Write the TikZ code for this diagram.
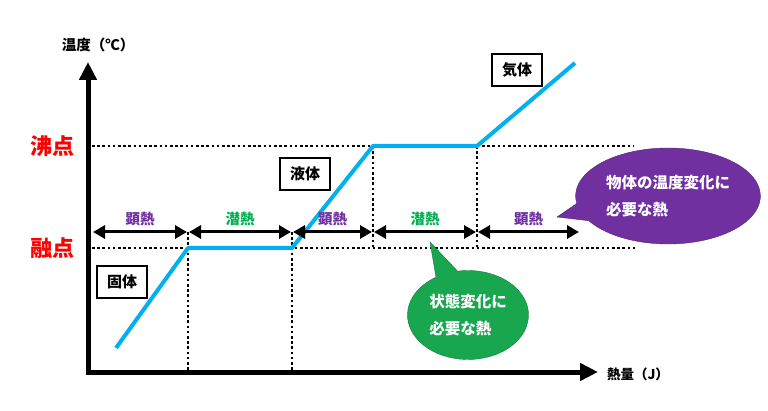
\documentclass[tikz,border=0pt]{standalone}
\usepackage{fontspec}
\setmainfont{Noto Sans CJK JP}
\usetikzlibrary{arrows.meta,shapes.callouts}
\definecolor{lineblue}{RGB}{0,176,240}
\definecolor{heatpurple}{RGB}{112,48,160}
\definecolor{heatgreen}{RGB}{0,176,80}
\definecolor{bubblegreen}{RGB}{24,166,78}
\tikzset{
  axis/.style={line width=5pt,line join=miter,{Triangle[length=18pt,width=17pt]}-{Triangle[length=18pt,width=17pt]}},
  guide/.style={line width=2.8pt,dash pattern=on 2.6pt off 2.6pt},
  curve/.style={lineblue,line width=4pt,line join=round},
  span/.style={line width=3pt,shorten <=1pt,shorten >=1pt,{Triangle[length=12pt,width=13pt]}-{Triangle[length=12pt,width=13pt]}},
  heatlabel/.style={font=\bfseries\fontsize{14.5}{14.5}\selectfont,above=1pt},
  statebox/.style={draw,line width=1.2pt,minimum width=50pt,minimum height=32pt,font=\bfseries\fontsize{15}{15}\selectfont},
  bubble/.style={ellipse callout,callout pointer arc=22,text=white,align=left,font=\bfseries\fontsize{15.5}{27}\selectfont}
}
\begin{document}
\begin{tikzpicture}[x=1pt,y=-1pt]
    \useasboundingbox (0,0) rectangle (768,411);

    % Corner points of the heating curve
    \coordinate (k0) at (116,348);
    \coordinate (k1) at (188,248);
    \coordinate (k2) at (292,248);
    \coordinate (k3) at (373,146);
    \coordinate (k4) at (477,146);
    \coordinate (k5) at (575,63);

    % Ends of the heat spans
    \coordinate (s0) at (92,232);
    \coordinate (s1) at (188,232);
    \coordinate (s2) at (292,232);
    \coordinate (s3) at (373,232);
    \coordinate (s4) at (477,232);
    \coordinate (s5) at (580,232);

    % Draw the axes
    \coordinate (origin) at (88,372);
    \coordinate (ytop) at (88,62);
    \coordinate (xend) at (598,372);
    \draw[axis] (ytop) -- (origin) -- (xend);
    \node[font=\bfseries\fontsize{14.5}{14.5}\selectfont] (ylabel) at (98,45) {温度（℃）};
    \node[font=\bfseries\fontsize{13.5}{13.5}\selectfont] (xlabel) at (638,374) {熱量（J）};

    % Boiling and melting points
    \node[red,font=\bfseries\fontsize{22}{22}\selectfont] (boil) at (52,146) {沸点};
    \node[red,font=\bfseries\fontsize{22}{22}\selectfont] (melt) at (52,248) {融点};
    \draw[guide] (92,146) -- (633,146);
    \draw[guide] (92,248) -- (638,248);

    % Dotted dividers
    \draw[guide] (s1) -- (s1 |- origin);
    \draw[guide] (s2) -- (s2 |- origin);
    \draw[guide] (k3) -- (k3 |- k1);
    \draw[guide] (k4) -- (k4 |- k1);

    % Heating curve
    \draw[curve] (k0) -- (k1) -- (k2) -- (k3) -- (k4) -- (k5);

    % Heat spans
    \draw[span] (s0) -- (s1) node[midway,heatlabel,heatpurple] (sense1) {顕熱};
    \draw[span] (s1) -- (s2) node[midway,heatlabel,heatgreen] (latent1) {潜熱};
    \draw[span] (s2) -- (s3) node[midway,heatlabel,heatpurple] (sense2) {顕熱};
    \draw[span] (s3) -- (s4) node[midway,heatlabel,heatgreen] (latent2) {潜熱};
    \draw[span] (s4) -- (s5) node[midway,heatlabel,heatpurple] (sense3) {顕熱};

    % State boxes
    \node[statebox] (solid) at (122,282) {固体};
    \node[statebox] (liquid) at (305,174) {液体};
    \node[statebox] (gas) at (517,70) {気体};

    % Callouts
    \coordinate (tipG) at (430,242);
    \coordinate (tipP) at (557,217);
    \node[bubble,fill=bubblegreen,draw=bubblegreen!75!black,minimum width=121pt,minimum height=89pt,
      callout absolute pointer=(tipG)] (latentnote) at (468,315) {状態変化に\\必要な熱};
    \node[bubble,fill=heatpurple,draw=heatpurple!75!black,minimum width=170pt,minimum height=96pt,
      callout absolute pointer=(tipP)] (sensenote) at (668,196) {物体の温度変化に\\必要な熱};
\end{tikzpicture}
\end{document}
